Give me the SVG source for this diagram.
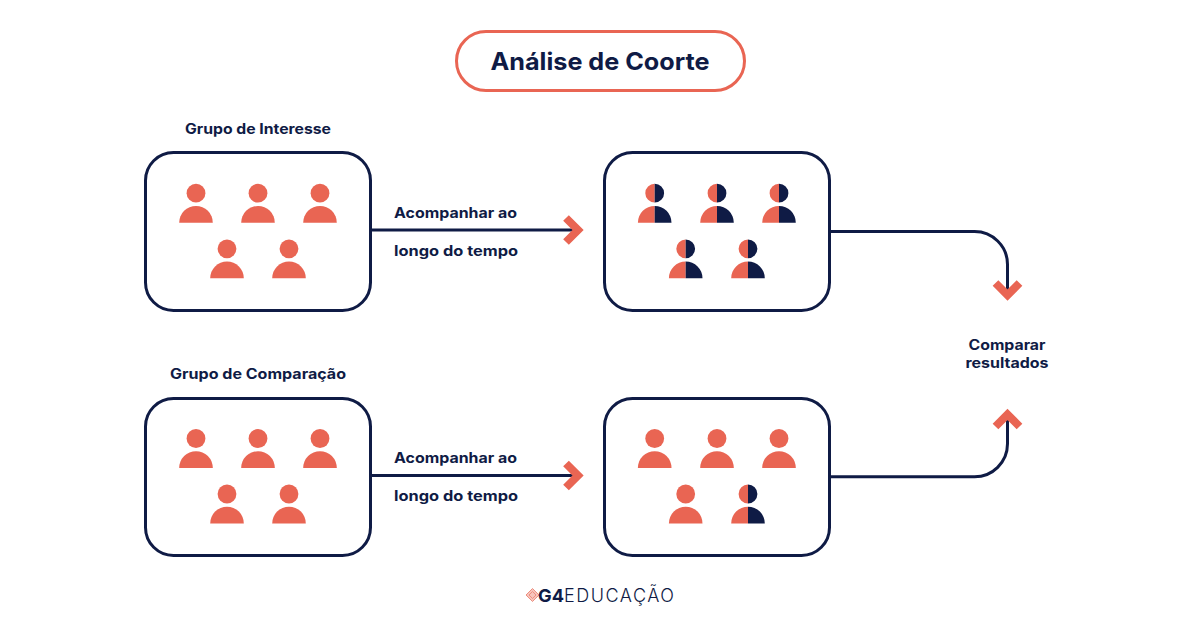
<svg xmlns="http://www.w3.org/2000/svg" width="1200" height="630" viewBox="0 0 1200 630">
<style>
text{font-family:"Inter","Liberation Sans",sans-serif;font-weight:700;fill:#0f1b45}
.box{fill:#fff;stroke:#0f1b45;stroke-width:3}
.line{fill:none;stroke:#0f1b45;stroke-width:3}
.chev{fill:none;stroke:#e96553;stroke-width:8}
.o{fill:#e96553}
.n{fill:#0f1b45}
.l{font-size:14px}
</style>
<defs>
<g id="p"><circle class="o" cy="-29.5" r="9.4"/><path class="o" d="M-16.8 0A16.8 16.8 0 0 1 16.8 0Z"/></g>
<g id="h"><path class="o" d="M0-38.9A9.4 9.4 0 0 0 0-20.1ZM0-16.8A16.8 16.8 0 0 0-16.8 0H0Z"/><path class="n" d="M0-38.9A9.4 9.4 0 0 1 0-20.1ZM0-16.8A16.8 16.8 0 0 1 16.8 0H0Z"/></g>
</defs>
<rect width="1200" height="630" fill="#fff"/>
<g id="title"><rect x="456.500" y="31.500" width="288" height="59" rx="29.500" fill="#fff" stroke="#e96553" stroke-width="3"/><text x="600" y="69.500" text-anchor="middle" font-size="24" textLength="219" lengthAdjust="spacingAndGlyphs">Análise de Coorte</text></g>
<g id="connectors">
<path class="line" d="M371 230H580"/><path class="line" d="M371 475.500H580"/>
<path class="line" d="M830 231.500H974A33 33 0 0 1 1007.500 264.500V294"/>
<path class="line" d="M830 476.800H974A33 33 0 0 0 1007.500 443.800V414"/>
<path class="chev" d="M566 218L578 230L566 242"/><path class="chev" d="M566 463.500L578 475.500L566 487.500"/>
<path class="chev" d="M995.500 283L1007.500 295L1019.500 283"/><path class="chev" d="M995.500 426.500L1007.500 414.500L1019.500 426.500"/>
</g>
<g id="interesse-inicio"><rect class="box" x="145.500" y="152.500" width="225" height="158" rx="28"/>
<use href="#p" x="196" y="222.700"/><use href="#p" x="258" y="222.700"/><use href="#p" x="320" y="222.700"/><use href="#p" x="227" y="278.300"/><use href="#p" x="289" y="278.300"/></g>
<g id="interesse-fim"><rect class="box" x="604.500" y="152.500" width="225" height="158" rx="28"/>
<use href="#h" x="654.700" y="222.700"/><use href="#h" x="717" y="222.700"/><use href="#h" x="779" y="222.700"/><use href="#h" x="685.700" y="278.300"/><use href="#h" x="748" y="278.300"/></g>
<g id="comparacao-inicio"><rect class="box" x="145.500" y="398.500" width="225" height="157" rx="28"/>
<use href="#p" x="196" y="468"/><use href="#p" x="258" y="468"/><use href="#p" x="320" y="468"/><use href="#p" x="227" y="523.500"/><use href="#p" x="289" y="523.500"/></g>
<g id="comparacao-fim"><rect class="box" x="604.500" y="398.500" width="225" height="157" rx="28"/>
<use href="#p" x="654.700" y="468"/><use href="#p" x="717" y="468"/><use href="#p" x="779" y="468"/><use href="#p" x="685.700" y="523.500"/><use href="#h" x="748" y="523.500"/></g>
<g id="labels">
<text class="l" x="258" y="134" text-anchor="middle" textLength="146" lengthAdjust="spacingAndGlyphs">Grupo de Interesse</text>
<text class="l" x="258" y="379" text-anchor="middle" textLength="176" lengthAdjust="spacingAndGlyphs">Grupo de Comparação</text>
<text class="l" x="394" y="218" textLength="123" lengthAdjust="spacingAndGlyphs">Acompanhar ao</text>
<text class="l" x="394" y="256" textLength="124" lengthAdjust="spacingAndGlyphs">longo do tempo</text>
<text class="l" x="394" y="463" textLength="123" lengthAdjust="spacingAndGlyphs">Acompanhar ao</text>
<text class="l" x="394" y="501" textLength="124" lengthAdjust="spacingAndGlyphs">longo do tempo</text>
<text class="l" x="1007" y="350" text-anchor="middle" textLength="77" lengthAdjust="spacingAndGlyphs">Comparar</text>
<text class="l" x="1007" y="368" text-anchor="middle" textLength="83" lengthAdjust="spacingAndGlyphs">resultados</text>
</g>
<g id="logo">
<path d="M532.500 588.500L539 595L532.500 601.500L526 595Z" fill="#f7c4bb" stroke="#ec8f80" stroke-width="1"/>
<path d="M532.500 591.500L536 595L532.500 598.500L529 595Z" fill="none" stroke="#ec8f80" stroke-width="1"/>
<text x="538" y="602" font-size="18" font-weight="800" textLength="26" lengthAdjust="spacingAndGlyphs">G4</text>
<text x="564" y="602" font-size="18" style="font-weight:300" textLength="110" lengthAdjust="spacing">EDUCAÇÃO</text>
</g>
</svg>
